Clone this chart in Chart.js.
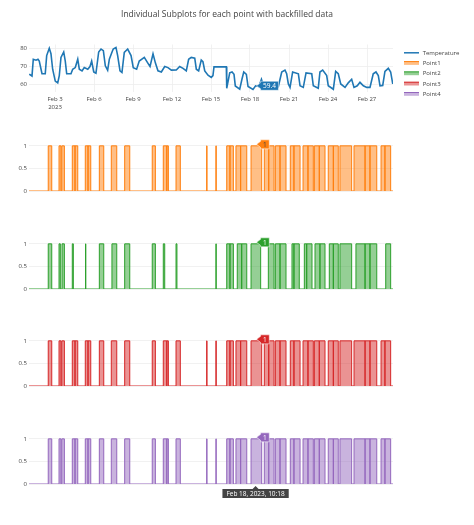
<!DOCTYPE html>
<html>
<head>
<meta charset="utf-8">
<script src="https://cdn.jsdelivr.net/npm/chart.js@4.4.1/dist/chart.umd.min.js"></script>
<style>
  html, body { margin: 0; padding: 0; background: #fff; overflow: hidden; }
  #wrap { position: relative; width: 474px; height: 525px; overflow: hidden; background: #fff; }
  #wrap canvas { position: absolute; }
</style>
</head>
<body>
<div id="wrap">
  <canvas id="temp" width="474" height="116" style="left:0;top:0"></canvas>
  <canvas id="p1" width="474" height="62" style="left:0;top:138px"></canvas>
  <canvas id="p2" width="474" height="62" style="left:0;top:236px"></canvas>
  <canvas id="p3" width="474" height="62" style="left:0;top:333px"></canvas>
  <canvas id="p4" width="474" height="75" style="left:0;top:431px"></canvas>
</div>
<script>
const chartTitle = 'Individual Subplots for each point with backfilled data';
const seriesNames = ['Temperature', 'Point1', 'Point2', 'Point3', 'Point4'];
const seriesColors = ['#1f77b4', '#ff7f0e', '#2ca02c', '#d62728', '#9467bd'];
const seriesFills = ['', 'rgba(255,127,14,0.5)', 'rgba(44,160,44,0.5)', 'rgba(214,39,40,0.5)', 'rgba(148,103,189,0.5)'];

// x values are days counted from Feb 1 2023 00:00
const xTickDays = [2, 5, 8, 11, 14, 17, 20, 23, 26];
const xTickLabels = [['Feb 3', '2023'], 'Feb 6', 'Feb 9', 'Feb 12', 'Feb 15', 'Feb 18', 'Feb 21', 'Feb 24', 'Feb 27'];
const tempTicks = [60, 70, 80];
const pointTicks = [0, 0.5, 1];
const pointTickLabels = ['0', '0.5', '1'];

const tempDays = [0.02, 0.23, 0.33, 0.54, 0.69, 0.79, 0.88, 1.0, 1.25, 1.36, 1.56, 1.69, 1.82, 2.02, 2.21, 2.33, 2.46, 2.67, 2.79, 2.9,
  3.23, 3.36, 3.56, 3.75, 3.87, 4.08, 4.25, 4.52, 4.69, 4.82, 4.98, 5.15, 5.36, 5.54, 5.72, 5.87, 6.05, 6.18, 6.38, 6.48,
  6.69, 6.82, 7.0, 7.15, 7.33, 7.59, 7.85, 8.02, 8.28, 8.48, 8.87, 9.13, 9.31, 9.54, 9.72, 9.92, 10.18, 10.44, 10.69, 10.95,
  11.33, 11.59, 11.85, 12.1, 12.28, 12.48, 12.75, 12.87, 13.05, 13.25, 13.38, 13.52, 13.77, 14.02, 14.15, 14.23, 15.18, 15.21, 15.44, 15.62,
  15.77, 15.87, 16.21, 16.38, 16.52, 16.72, 16.85, 17.23, 17.43, 17.69, 17.88, 18.08, 18.54, 19.0, 19.18, 19.44, 19.69, 19.82, 19.95, 20.08,
  20.28, 20.72, 20.85, 21.1, 21.31, 21.75, 21.87, 22.25, 22.38, 22.59, 22.9, 23.02, 23.41, 23.59, 23.79, 23.98, 24.31, 24.56, 24.82, 25.0,
  25.25, 25.46, 25.72, 25.98, 26.23, 26.48, 26.69, 26.87, 27.0, 27.21, 27.38, 27.64, 27.82, 27.98];
const tempValues = [65.8, 64.8, 74, 73.5, 74, 73, 70, 66, 66, 76, 80, 77, 68.5, 62, 61, 65, 75, 78, 73, 66,
  66, 68.5, 69.4, 74, 68.5, 67.6, 69.4, 68.5, 70, 73, 67, 66.3, 78, 79.6, 78.7, 70.4, 68, 74, 77.8, 79.6,
  80.5, 76, 67.6, 66.7, 77.8, 79.6, 76, 69.4, 68.5, 73, 75, 72, 70, 77, 72, 67.6, 67, 70, 69.4, 68,
  68.1, 70, 69, 67.6, 74, 75, 74.6, 68.5, 67.6, 73.5, 72.6, 67.6, 65.2, 64, 65, 69.8, 69.8, 58, 66.5, 67,
  65.7, 59.3, 57.5, 63, 67, 65.7, 59, 57.4, 59.4, 59, 63, 58.5, 58, 57.5, 59, 67, 68, 66, 60.4, 58.5,
  67, 66, 59.4, 58.5, 66.5, 66, 59.4, 58, 67, 68, 65, 59.4, 57.5, 67.3, 66, 60.4, 58.5, 61, 63, 58.5,
  59.4, 61.3, 59.4, 58.5, 58.5, 66, 67, 65, 59.4, 59.6, 67.3, 69, 67, 60.4];

// [start, end] days where the point reads 1
const point1On = [[1.48, 1.75], [2.31, 2.46], [2.52, 2.72], [3.33, 3.54], [3.54, 3.75], [4.33, 4.54], [4.54, 4.75], [5.41, 5.75],
  [6.33, 6.75], [7.36, 7.75], [9.48, 9.72], [10.33, 10.6], [10.6, 10.72], [11.31, 11.64], [13.67, 13.69], [14.38, 14.4],
  [15.21, 15.46], [15.46, 15.72], [15.92, 16.28], [16.28, 16.75], [17.08, 17.9], [18.1, 18.44], [18.44, 18.85], [18.95, 19.31],
  [19.31, 19.77], [20.1, 20.38], [20.38, 20.85], [21.08, 21.46], [21.46, 21.87], [21.95, 22.33], [22.33, 22.77], [23.02, 23.41],
  [23.41, 23.79], [23.92, 24.82], [25.0, 25.85], [25.85, 26.23], [26.23, 26.75], [27.08, 27.38], [27.38, 27.82]];
const point2On = [[1.48, 1.75], [2.31, 2.41], [2.54, 2.72], [3.33, 3.41], [4.35, 4.37], [5.41, 5.75], [6.38, 6.75], [7.36, 7.75],
  [9.48, 9.72], [10.33, 10.44], [11.31, 11.38], [14.38, 14.4], [15.21, 15.46], [15.46, 15.72], [16.02, 16.36], [16.36, 16.75],
  [17.08, 17.82], [18.41, 18.85], [18.95, 19.31], [19.31, 19.77], [20.23, 20.38], [20.38, 20.79], [21.18, 21.36], [21.36, 21.77],
  [22.0, 22.38], [22.38, 22.77], [23.1, 23.41], [23.41, 23.79], [23.92, 24.82], [25.15, 25.85], [25.85, 26.23], [26.23, 26.75],
  [27.44, 27.82]];
const point3On = [[1.48, 1.75], [2.31, 2.46], [2.52, 2.72], [3.33, 3.54], [3.54, 3.75], [4.33, 4.54], [4.54, 4.75], [5.41, 5.75],
  [6.33, 6.75], [7.36, 7.75], [9.48, 9.72], [10.33, 10.6], [10.6, 10.72], [11.31, 11.64], [13.67, 13.69], [14.38, 14.4],
  [15.21, 15.46], [15.46, 15.72], [15.92, 16.28], [16.28, 16.75], [17.08, 17.9], [18.1, 18.44], [18.44, 18.85], [18.95, 19.31],
  [19.31, 19.77], [20.1, 20.38], [20.38, 20.85], [21.08, 21.46], [21.46, 21.87], [21.95, 22.33], [22.33, 22.77], [23.02, 23.41],
  [23.41, 23.79], [23.92, 24.82], [25.0, 25.85], [25.85, 26.23], [26.23, 26.75], [27.08, 27.38], [27.38, 27.82]];
const point4On = [[1.48, 1.75], [2.31, 2.46], [2.52, 2.72], [3.33, 3.54], [3.54, 3.75], [4.33, 4.54], [4.54, 4.75], [5.41, 5.75],
  [6.33, 6.75], [7.36, 7.75], [9.48, 9.72], [10.33, 10.6], [10.6, 10.72], [11.31, 11.64], [13.67, 13.69], [14.38, 14.4],
  [15.21, 15.46], [15.46, 15.72], [15.92, 16.28], [16.28, 16.75], [17.08, 17.9], [18.1, 18.44], [18.44, 18.85], [18.95, 19.31],
  [19.31, 19.77], [20.1, 20.38], [20.38, 20.85], [21.08, 21.46], [21.46, 21.87], [21.95, 22.33], [22.33, 22.77], [23.02, 23.41],
  [23.41, 23.79], [23.92, 24.82], [25.0, 25.85], [25.85, 26.23], [26.23, 26.75], [27.08, 27.38], [27.38, 27.82]];

const xMax = 28;
const hoverDay = 17.429;
const hoverLabel = 'Feb 18, 2023, 10:18';

const FONT = '"Open Sans", verdana, arial, sans-serif';
Chart.defaults.font.family = FONT;
Chart.defaults.color = '#444';

function stepPoints(on) {
  const pts = [{x: 0, y: 0}];
  on.forEach(([s, e]) => {
    pts.push({x: s, y: 1}, {x: e, y: 0});
  });
  pts.push({x: xMax, y: 0});
  return pts;
}

function valueAt(on, day) {
  return on.some(([s, e]) => day >= s && day <= e) ? 1 : 0;
}

// hover label with a small arrow pointing left at the point
function drawHoverBox(ctx, px, py, text, bg, fg) {
  ctx.save();
  ctx.font = '6.5px ' + FONT;
  const w = ctx.measureText(text).width + 5, h = 9;
  const tip = px + 1, bx = tip + 4;
  ctx.beginPath();
  ctx.moveTo(tip, py);
  ctx.lineTo(bx, py - 3);
  ctx.lineTo(bx, py - h / 2);
  ctx.lineTo(bx + w, py - h / 2);
  ctx.lineTo(bx + w, py + h / 2);
  ctx.lineTo(bx, py + h / 2);
  ctx.lineTo(bx, py + 3);
  ctx.closePath();
  ctx.fillStyle = bg;
  ctx.fill();
  ctx.strokeStyle = '#fff';
  ctx.lineWidth = 0.5;
  ctx.stroke();
  ctx.fillStyle = fg;
  ctx.textAlign = 'center';
  ctx.textBaseline = 'middle';
  ctx.fillText(text, bx + w / 2, py + 0.5);
  ctx.restore();
}

function drawAxisLabel(ctx, px, top, text) {
  ctx.save();
  ctx.font = '6.5px ' + FONT;
  const w = ctx.measureText(text).width + 8, h = 9;
  const by = top + 3;
  ctx.beginPath();
  ctx.moveTo(px, top);
  ctx.lineTo(px + 3, by);
  ctx.lineTo(px + w / 2, by);
  ctx.lineTo(px + w / 2, by + h);
  ctx.lineTo(px - w / 2, by + h);
  ctx.lineTo(px - w / 2, by);
  ctx.lineTo(px - 3, by);
  ctx.closePath();
  ctx.fillStyle = '#444';
  ctx.fill();
  ctx.fillStyle = '#fff';
  ctx.textAlign = 'center';
  ctx.textBaseline = 'middle';
  ctx.fillText(text, px, by + h / 2 + 0.5);
  ctx.restore();
}

// key for all five series, drawn in the room kept free right of the top plot
const seriesKey = {
  id: 'seriesKey',
  afterDraw(chart) {
    const {ctx, chartArea} = chart;
    const x0 = chartArea.right + 11;
    ctx.save();
    ctx.font = '6px ' + FONT;
    ctx.textBaseline = 'middle';
    ctx.textAlign = 'left';
    seriesNames.forEach((name, i) => {
      const y = chartArea.top + 8.3 + i * 10.3;
      if (i === 0) {
        ctx.strokeStyle = seriesColors[0];
        ctx.lineWidth = 1.5;
        ctx.beginPath();
        ctx.moveTo(x0, y);
        ctx.lineTo(x0 + 15, y);
        ctx.stroke();
      } else {
        ctx.fillStyle = seriesFills[i];
        ctx.fillRect(x0, y - 1.8, 15, 3.6);
        ctx.strokeStyle = seriesColors[i];
        ctx.lineWidth = 1;
        ctx.beginPath();
        ctx.moveTo(x0, y - 1.5);
        ctx.lineTo(x0 + 15, y - 1.5);
        ctx.stroke();
      }
      ctx.fillStyle = '#444';
      ctx.fillText(name, x0 + 18.7, y + 0.3);
    });
    ctx.restore();
  }
};

const tempHover = {
  id: 'tempHover',
  afterDraw(chart) {
    const {ctx, scales} = chart;
    let k = 0;
    tempDays.forEach((d, i) => { if (Math.abs(d - hoverDay) < Math.abs(tempDays[k] - hoverDay)) k = i; });
    const v = tempValues[k];
    drawHoverBox(ctx, scales.x.getPixelForValue(hoverDay), scales.y.getPixelForValue(v), v.toFixed(1), seriesColors[0], '#fff');
  }
};

function pointHover(on, color, textColor, withAxis) {
  return {
    id: 'pointHover',
    afterDraw(chart) {
      const {ctx, scales, chartArea} = chart;
      const px = scales.x.getPixelForValue(hoverDay);
      const v = valueAt(on, hoverDay);
      drawHoverBox(ctx, px, scales.y.getPixelForValue(v) - 1.5, String(v), color, textColor);
      if (withAxis) drawAxisLabel(ctx, px, chartArea.bottom + 2, hoverLabel);
    }
  };
}

new Chart(document.getElementById('temp'), {
  type: 'line',
  data: {
    datasets: [{
      label: seriesNames[0],
      data: tempDays.map((d, i) => ({x: d, y: tempValues[i]})),
      borderColor: seriesColors[0],
      borderWidth: 1.6,
      pointRadius: 0,
      tension: 0,
      fill: false
    }]
  },
  options: {
    responsive: false,
    animation: false,
    events: [],
    layout: {padding: {left: 0, right: 20, top: 0, bottom: 0}},
    plugins: {
      legend: {display: false},
      tooltip: {enabled: false},
      title: {
        display: true,
        text: chartTitle,
        color: '#444',
        font: {size: 8.5, weight: 'normal', lineHeight: 1.2},
        padding: {top: 9.9, bottom: 24.4}
      }
    },
    scales: {
      x: {
        type: 'linear', min: 0, max: xMax,
        afterBuildTicks: ax => { ax.ticks = xTickDays.map(v => ({value: v})); },
        afterFit: ax => { ax.height = 24.4; },
        ticks: {
          callback: v => xTickLabels[xTickDays.indexOf(v)],
          autoSkip: false, maxRotation: 0, padding: 3,
          color: '#444', font: {size: 6, lineHeight: 1.45}
        },
        grid: {color: '#eee', lineWidth: 0.8, drawTicks: false},
        border: {display: false}
      },
      y: {
        min: 56.2, max: 82.1,
        afterBuildTicks: ax => { ax.ticks = tempTicks.map(v => ({value: v})); },
        afterFit: ax => { ax.width = 29; },
        ticks: {padding: 2, color: '#444', font: {size: 6}},
        grid: {color: '#eee', lineWidth: 0.8, drawTicks: false},
        border: {display: false}
      },
      // empty right-hand box that keeps room for the series key
      key: {
        type: 'linear', position: 'right',
        afterFit: ax => { ax.width = 61; },
        ticks: {display: false},
        grid: {display: false},
        border: {display: false}
      }
    }
  },
  plugins: [seriesKey, tempHover]
});

const pointSets = [point1On, point2On, point3On, point4On];
const hoverText = ['#444', '#fff', '#fff', '#fff'];

pointSets.forEach((on, i) => {
  const last = i === pointSets.length - 1;
  new Chart(document.getElementById('p' + (i + 1)), {
    type: 'line',
    data: {
      datasets: [{
        label: seriesNames[i + 1],
        data: stepPoints(on),
        stepped: true,
        borderColor: seriesColors[i + 1],
        backgroundColor: seriesFills[i + 1],
        borderWidth: 1,
        pointRadius: 0,
        fill: 'origin'
      }]
    },
    options: {
      responsive: false,
      animation: false,
      events: [],
      layout: {padding: {left: 0, right: 81, top: 5, bottom: last ? 22 : 9}},
      plugins: {legend: {display: false}, tooltip: {enabled: false}},
      scales: {
        x: {type: 'linear', min: 0, max: xMax, display: false},
        y: {
          min: 0, max: 1.05,
          afterBuildTicks: ax => { ax.ticks = pointTicks.map(v => ({value: v})); },
          afterFit: ax => { ax.width = 29; },
          ticks: {
            callback: v => pointTickLabels[pointTicks.indexOf(v)],
            padding: 2, color: '#444', font: {size: 6}
          },
          grid: {color: '#eee', lineWidth: 0.8, drawTicks: false},
          border: {display: false}
        }
      }
    },
    plugins: [pointHover(on, seriesColors[i + 1], hoverText[i], last)]
  });
});
</script>
</body>
</html>
